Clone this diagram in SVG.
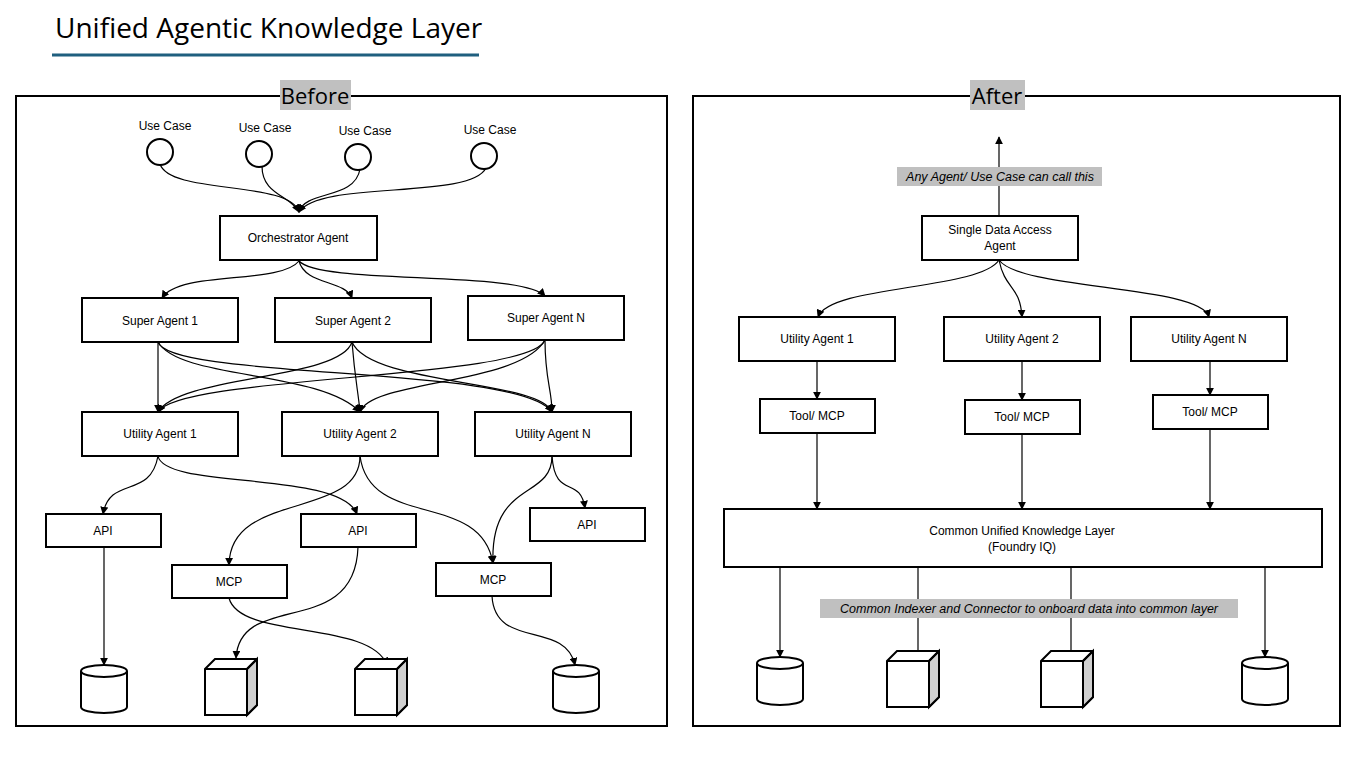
<svg xmlns="http://www.w3.org/2000/svg" width="1358" height="764" viewBox="0 0 1358 764">
<style>
.b{fill:#fff;stroke:#000;stroke-width:2}
.f{fill:none;stroke:#000;stroke-width:2}
.c{fill:none;stroke:#000;stroke-width:1.2}
.t{font-family:"Liberation Sans",Arial,sans-serif;font-size:12px;text-anchor:middle;fill:#000}
.h{font-family:"Open Sans","Liberation Sans",sans-serif;font-size:22px;text-anchor:middle;fill:#000}
.i{font-family:"Liberation Sans",Arial,sans-serif;font-size:12.5px;font-style:italic;text-anchor:middle;fill:#000}
.g{fill:#c0c0c0}
</style>
<defs>
<marker id="a" viewBox="0 0 10 10" refX="9" refY="5" markerWidth="8" markerHeight="8" markerUnits="userSpaceOnUse" orient="auto"><path d="M0,0 L10,5 L0,10 z" fill="#000"/></marker>
<g id="cyl"><path d="M-23,6 V42 A23,6 0 0 0 23,42 V6" class="b"/><ellipse cx="0" cy="6" rx="23" ry="6" class="b"/></g>
<g id="cube"><path d="M0,10 L10,0 H52 V46 L42,56 H0 Z" fill="#fff" stroke="#000" stroke-width="2"/><path d="M42,10 L52,0 V46 L42,56 Z" fill="#d0d0d0" stroke="#000" stroke-width="2"/><path d="M0,10 H42 V56 M42,10 L52,0" class="f"/></g>
</defs>
<rect width="1358" height="764" fill="#fff"/>
<text x="55" y="38" font-family="Open Sans,Liberation Sans,sans-serif" font-size="28" fill="#000">Unified Agentic Knowledge Layer</text>
<line x1="52" y1="55" x2="479" y2="55" stroke="#1f5f7f" stroke-width="3"/>

<g id="frames">
<rect x="16" y="96" width="651" height="630" class="f"/>
<rect x="280" y="80" width="71" height="30" class="g"/>
<text x="315" y="104" class="h">Before</text>
<rect x="693" y="96" width="647" height="630" class="f"/>
<rect x="970" y="80" width="55" height="30" class="g"/>
<text x="997" y="104" class="h">After</text>
</g>

<g id="connectors">
<path class="c" marker-end="url(#a)" d="M160,164 C170,195 290,180 299,212"/>
<path class="c" marker-end="url(#a)" d="M262,166 C262,195 290,195 299,212"/>
<path class="c" marker-end="url(#a)" d="M360,169 C355,200 305,190 299,212"/>
<path class="c" marker-end="url(#a)" d="M486,168 C470,200 320,180 299,212"/>
<path class="c" marker-end="url(#a)" d="M299,261 C280,285 180,270 162,298"/>
<path class="c" marker-end="url(#a)" d="M299,261 C305,285 345,280 352,298"/>
<path class="c" marker-end="url(#a)" d="M299,261 C320,285 520,270 545,296"/>
<path class="c" marker-end="url(#a)" d="M158,342 V412"/>
<path class="c" marker-end="url(#a)" d="M158,342 C180,380 320,370 360,412"/>
<path class="c" marker-end="url(#a)" d="M158,342 C170,380 520,365 552,412"/>
<path class="c" marker-end="url(#a)" d="M352,342 C340,380 180,375 158,412"/>
<path class="c" marker-end="url(#a)" d="M352,342 C355,380 358,390 360,412"/>
<path class="c" marker-end="url(#a)" d="M352,342 C370,385 540,380 552,412"/>
<path class="c" marker-end="url(#a)" d="M545,340 C530,380 180,375 158,412"/>
<path class="c" marker-end="url(#a)" d="M545,340 C520,385 370,380 360,412"/>
<path class="c" marker-end="url(#a)" d="M545,340 C545,380 552,390 552,412"/>
<path class="c" marker-end="url(#a)" d="M158,456 C150,500 110,475 103,514"/>
<path class="c" marker-end="url(#a)" d="M158,456 C165,490 340,470 357,514"/>
<path class="c" marker-end="url(#a)" d="M360,456 C360,520 230,490 229,565"/>
<path class="c" marker-end="url(#a)" d="M360,456 C370,530 480,490 493,563"/>
<path class="c" marker-end="url(#a)" d="M552,456 C552,500 490,480 493,563"/>
<path class="c" marker-end="url(#a)" d="M552,456 C555,500 580,475 585,508"/>
<path class="c" marker-end="url(#a)" d="M104,547 V665"/>
<path class="c" marker-end="url(#a)" d="M358,547 C355,640 240,590 236,658"/>
<path class="c" marker-end="url(#a)" d="M229,598 C240,640 370,620 387,665"/>
<path class="c" marker-end="url(#a)" d="M492,596 C495,650 565,620 575,665"/>

<path class="c" marker-end="url(#a)" d="M999,216 V137"/>
<path class="c" marker-end="url(#a)" d="M999,260 C980,290 830,285 818,317"/>
<path class="c" marker-end="url(#a)" d="M999,260 C1005,290 1020,285 1022,317"/>
<path class="c" marker-end="url(#a)" d="M999,260 C1020,290 1200,285 1209,317"/>
<path class="c" marker-end="url(#a)" d="M817,361 V399"/>
<path class="c" marker-end="url(#a)" d="M1022,361 V400"/>
<path class="c" marker-end="url(#a)" d="M1210,361 V395"/>
<path class="c" marker-end="url(#a)" d="M817,433 V509"/>
<path class="c" marker-end="url(#a)" d="M1022,434 V509"/>
<path class="c" marker-end="url(#a)" d="M1210,429 V509"/>
<path class="c" marker-end="url(#a)" d="M780,567 V657"/>
<path class="c" marker-end="url(#a)" d="M918,567 V657"/>
<path class="c" marker-end="url(#a)" d="M1071,567 V657"/>
<path class="c" marker-end="url(#a)" d="M1265,567 V657"/>
</g>

<g id="usecases">
<circle cx="160" cy="152" r="13" class="b"/><text x="165" y="130" class="t">Use Case</text>
<circle cx="259" cy="154" r="13" class="b"/><text x="265" y="132" class="t">Use Case</text>
<circle cx="358" cy="157" r="13" class="b"/><text x="365" y="135" class="t">Use Case</text>
<circle cx="484" cy="156" r="13" class="b"/><text x="490" y="134" class="t">Use Case</text>
</g>
<g id="orchestrator"><rect x="220" y="216" width="157" height="44" class="b"/><text x="298" y="242" class="t">Orchestrator Agent</text></g>
<g id="super1"><rect x="82" y="298" width="156" height="44" class="b"/><text x="160" y="325" class="t">Super Agent 1</text></g>
<g id="super2"><rect x="275" y="298" width="156" height="44" class="b"/><text x="353" y="325" class="t">Super Agent 2</text></g>
<g id="superN"><rect x="468" y="296" width="156" height="44" class="b"/><text x="546" y="322" class="t">Super Agent N</text></g>
<g id="util1"><rect x="82" y="412" width="156" height="44" class="b"/><text x="160" y="438" class="t">Utility Agent 1</text></g>
<g id="util2"><rect x="282" y="412" width="156" height="44" class="b"/><text x="360" y="438" class="t">Utility Agent 2</text></g>
<g id="utilN"><rect x="475" y="412" width="156" height="44" class="b"/><text x="553" y="438" class="t">Utility Agent N</text></g>
<g id="api1"><rect x="46" y="514" width="115" height="33" class="b"/><text x="103" y="535" class="t">API</text></g>
<g id="api2"><rect x="301" y="514" width="115" height="33" class="b"/><text x="358" y="535" class="t">API</text></g>
<g id="api3"><rect x="530" y="508" width="115" height="33" class="b"/><text x="587" y="529" class="t">API</text></g>
<g id="mcp1"><rect x="172" y="565" width="115" height="33" class="b"/><text x="229" y="586" class="t">MCP</text></g>
<g id="mcp2"><rect x="436" y="563" width="115" height="33" class="b"/><text x="493" y="584" class="t">MCP</text></g>
<g id="db1"><use href="#cyl" x="104" y="665"/></g>
<g id="cube1"><use href="#cube" x="205" y="659"/></g>
<g id="cube2"><use href="#cube" x="355" y="659"/></g>
<g id="db2"><use href="#cyl" x="576" y="665"/></g>

<g id="callnote"><rect x="897" y="167" width="205" height="19" class="g"/><text x="1000" y="181" class="i">Any Agent/ Use Case can call this</text></g>
<g id="sda"><rect x="922" y="216" width="156" height="44" class="b"/><text x="1000" y="234" class="t">Single Data Access</text><text x="1000" y="250" class="t">Agent</text></g>
<g id="rutil1"><rect x="739" y="317" width="156" height="44" class="b"/><text x="817" y="343" class="t">Utility Agent 1</text></g>
<g id="rutil2"><rect x="944" y="317" width="156" height="44" class="b"/><text x="1022" y="343" class="t">Utility Agent 2</text></g>
<g id="rutilN"><rect x="1131" y="317" width="156" height="44" class="b"/><text x="1209" y="343" class="t">Utility Agent N</text></g>
<g id="tool1"><rect x="760" y="399" width="115" height="34" class="b"/><text x="817" y="420" class="t">Tool/ MCP</text></g>
<g id="tool2"><rect x="965" y="400" width="115" height="34" class="b"/><text x="1022" y="421" class="t">Tool/ MCP</text></g>
<g id="toolN"><rect x="1153" y="395" width="115" height="34" class="b"/><text x="1210" y="416" class="t">Tool/ MCP</text></g>
<g id="common"><rect x="724" y="509" width="598" height="58" class="b"/><text x="1022" y="535" class="t">Common Unified Knowledge Layer</text><text x="1022" y="551" class="t">(Foundry IQ)</text></g>
<g id="indexnote"><rect x="820" y="599" width="418" height="19" class="g"/><text x="1029" y="613" class="i">Common Indexer and Connector to onboard data into common layer</text></g>
<g id="rdb1"><use href="#cyl" x="780" y="657"/></g>
<g id="rcube1"><use href="#cube" x="887" y="651"/></g>
<g id="rcube2"><use href="#cube" x="1041" y="651"/></g>
<g id="rdb2"><use href="#cyl" x="1265" y="657"/></g>
</svg>
